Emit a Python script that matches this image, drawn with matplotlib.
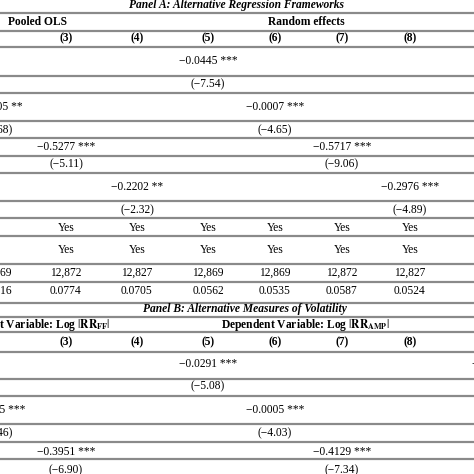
import matplotlib.pyplot as plt

plt.rcParams['font.family'] = ['Liberation Serif', 'DejaVu Serif']
plt.rcParams['mathtext.fontset'] = 'stix'

# column centres in pixels (col 2 and col 9 are cut off by the crop)
col_x = [-4, 66, 137, 208, 275, 342, 410, 482]
col_nums = ["", "(3)", "(4)", "(5)", "(6)", "(7)", "(8)", "(9)"]

# panel A rows: (y pixel, values for columns 2..9)
panel_a = [
    (61, ["", "", "", "\u22120.0445 ***", "", "", "", ""]),
    (84, ["", "", "", "(\u22127.54)", "", "", "", ""]),
    (107, ["\u22120.0005 **", "", "", "", "\u22120.0007 ***", "", "", ""]),
    (130, ["(\u22124.68)", "", "", "", "(\u22124.65)", "", "", ""]),
    (147, ["", "\u22120.5277 ***", "", "", "", "\u22120.5717 ***", "", ""]),
    (164, ["", "(\u22125.11)", "", "", "", "(\u22129.06)", "", ""]),
    (187, ["", "", "\u22120.2202 **", "", "", "", "\u22120.2976 ***", ""]),
    (210, ["", "", "(\u22122.32)", "", "", "", "(\u22124.89)", ""]),
    (228, ["", "Yes", "Yes", "Yes", "Yes", "Yes", "Yes", ""]),
    (250, ["", "Yes", "Yes", "Yes", "Yes", "Yes", "Yes", ""]),
    (273, ["12,869", "12,872", "12,827", "12,869", "12,869", "12,872", "12,827", ""]),
    (291, ["0.0816", "0.0774", "0.0705", "0.0562", "0.0535", "0.0587", "0.0524", ""]),
]
panel_b = [
    (364, ["", "", "", "\u22120.0291 ***", "", "", "", "\u22120.0"]),
    (386, ["", "", "", "(\u22125.08)", "", "", "", "(\u22124"]),
    (410, ["\u22120.0005 ***", "", "", "", "\u22120.0005 ***", "", "", ""]),
    (433, ["(\u22124.46)", "", "", "", "(\u22124.03)", "", "", ""]),
    (452, ["", "\u22120.3951 ***", "", "", "", "\u22120.4129 ***", "", ""]),
    (470, ["", "(\u22126.90)", "", "", "", "(\u22127.34)", "", ""]),
]
rule_y = [12.7, 31, 47, 76, 93, 121, 138, 156, 173, 201, 218, 236, 264, 282,
          303, 317, 332, 352, 379, 396, 424, 442, 459]

W = H = 474
fig = plt.figure(figsize=(4.74, 4.74), dpi=100)
ax = fig.add_axes([0, 0, 1, 1])
ax.set_xlim(0, W)
ax.set_ylim(H, 0)
ax.axis('off')

fs = 8.3
for y in rule_y:
    ax.axhline(y, color='#8a8a8a', lw=1.6)

ax.text(237, 5, "Panel A: Alternative Regression Frameworks", ha='center', va='center',
        fontsize=fs, style='italic', weight='bold')
ax.text(8, 22, "Pooled OLS", ha='left', va='center', fontsize=fs, weight='bold')
ax.text(306, 22, "Random effects", ha='center', va='center', fontsize=fs, weight='bold')
ax.text(245, 309, "Panel B: Alternative Measures of Volatility", ha='center', va='center',
        fontsize=fs, style='italic', weight='bold')
ax.text(110, 325, r"Dependent Variable: Log $|\mathbf{RR}_{\mathbf{FF}}|$", ha='right',
        va='center', fontsize=fs, weight='bold')
ax.text(305, 325, r"Dependent Variable: Log $|\mathbf{RR}_{\mathbf{AMP}}|$", ha='center',
        va='center', fontsize=fs, weight='bold')

for yy in (38, 342):
    for x, c in zip(col_x, col_nums):
        if not c or (yy == 38 and c == "(9)"):
            continue
        ax.text(x, yy, c, ha='center', va='center', fontsize=fs, weight='bold')

for y, vals in panel_a + panel_b:
    for x, v in zip(col_x, vals):
        if v:
            ax.text(x, y, v, ha='center', va='center', fontsize=fs)

fig.savefig("out.png", dpi=100)
